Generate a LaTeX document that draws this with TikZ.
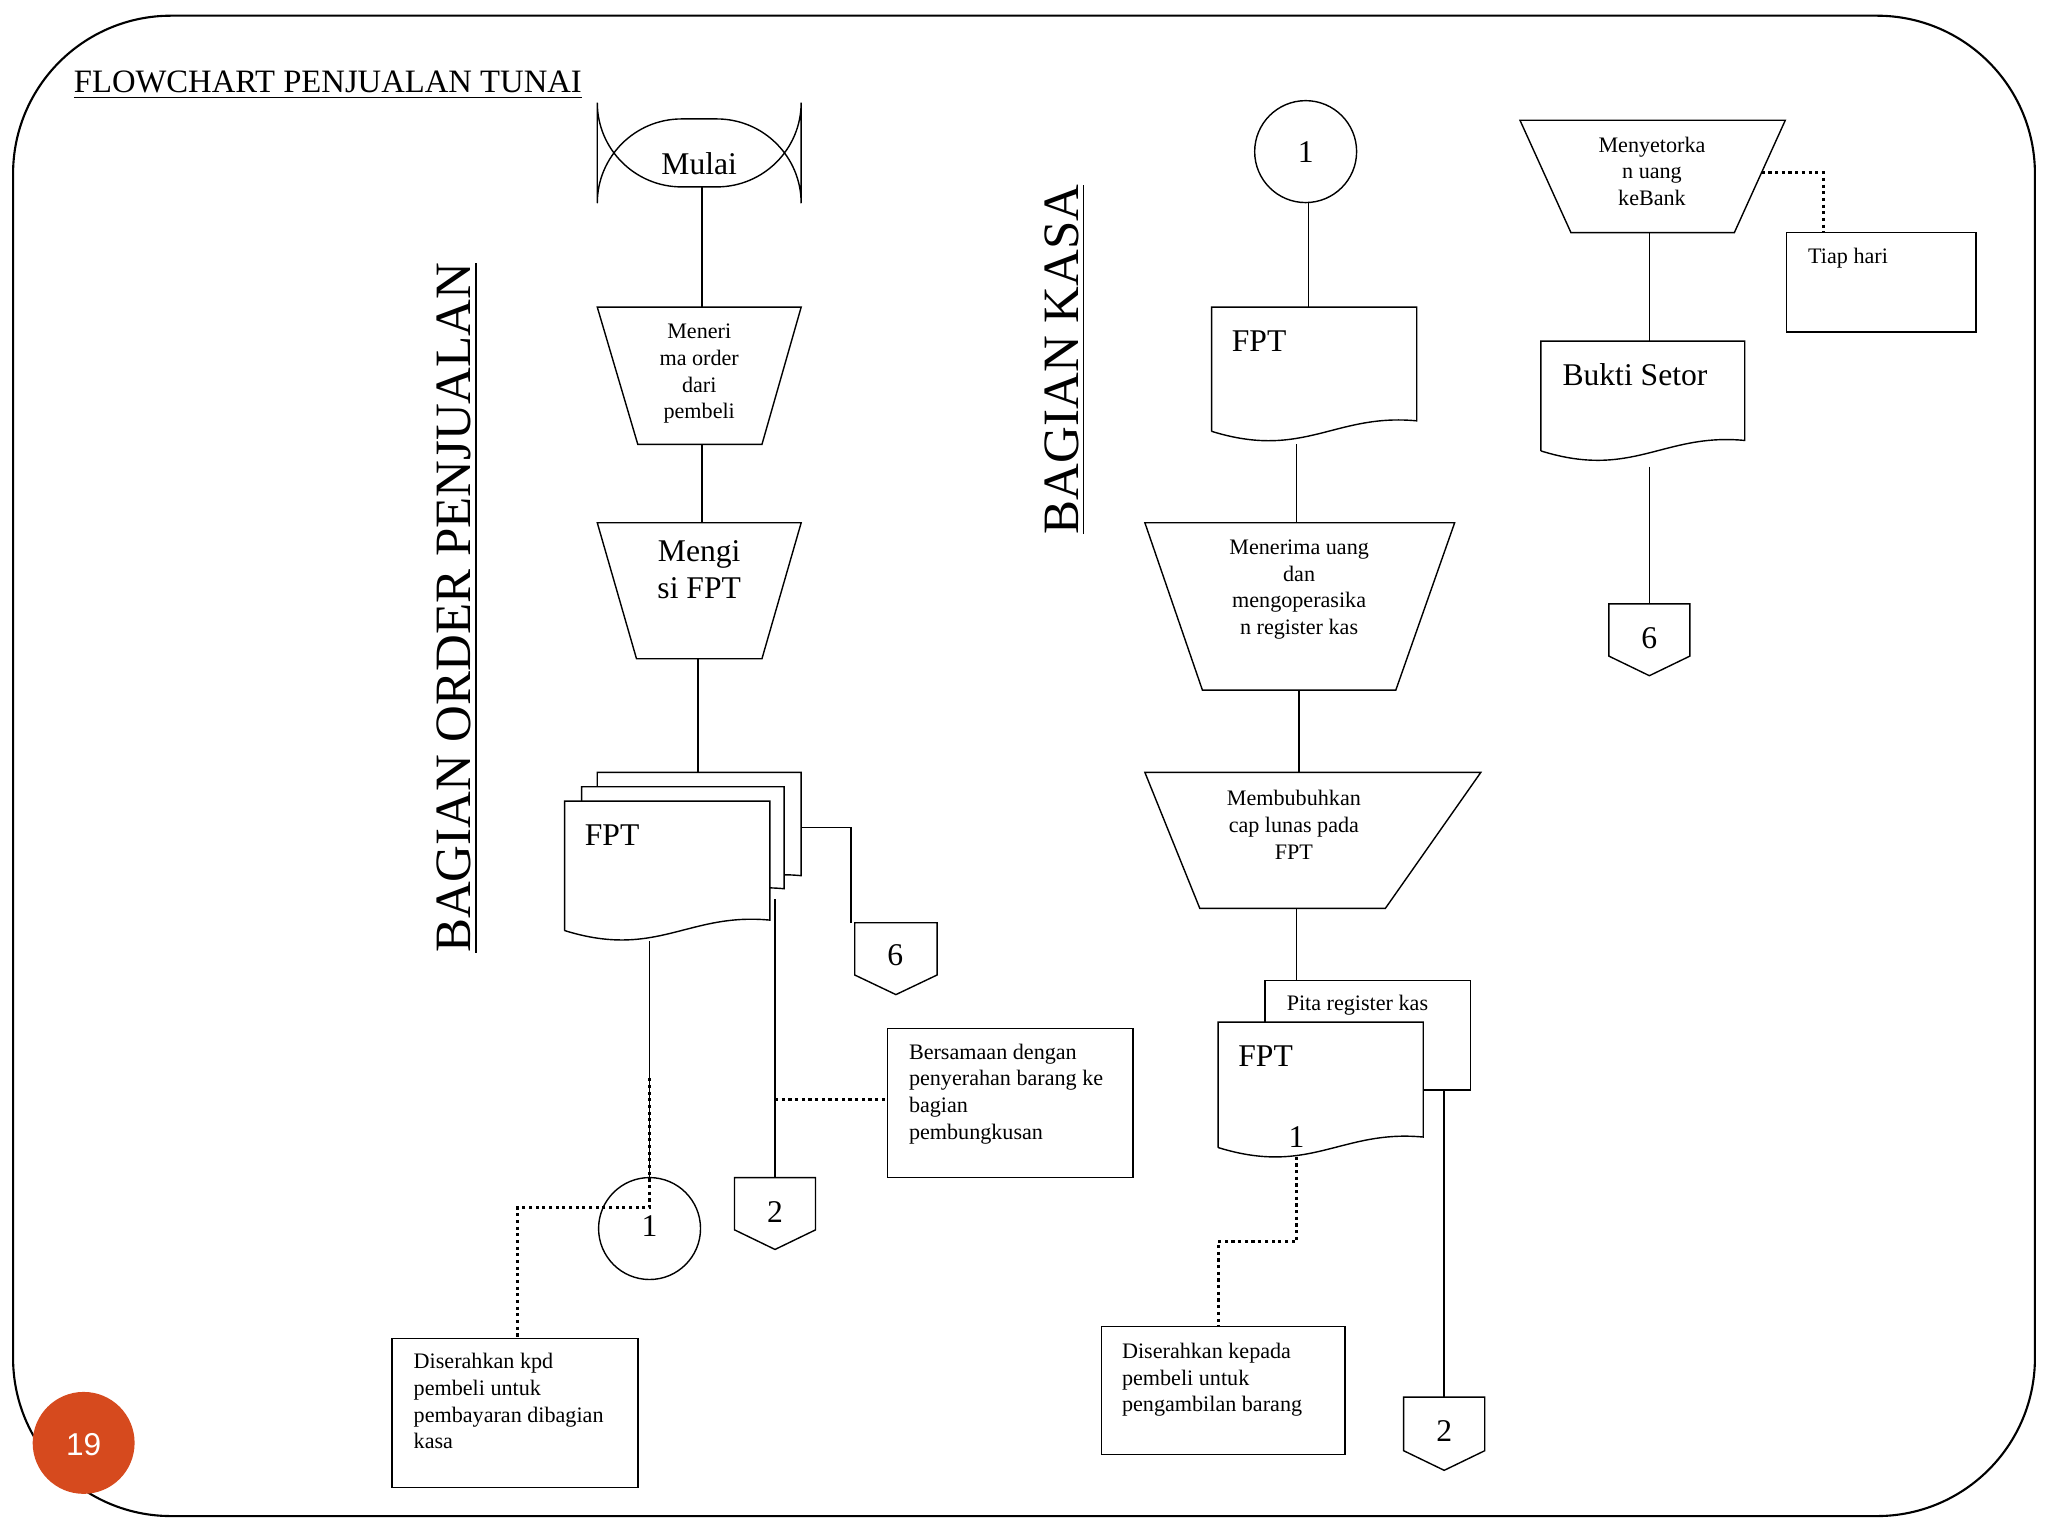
\documentclass[tikz,border=0pt]{standalone}
\usepackage{fontspec}
\setmainfont{Liberation Serif}
\newfontfamily\sansf{Liberation Sans}
\usetikzlibrary{positioning}
\definecolor{pageorange}{RGB}{214,74,30}

% document shape: left, top, right, bottom
\newcommand{\docbox}[4]{%
  \draw[fill=white] (#1,#4) -- (#1,#2) -- (#3,#2) -- (#3,#4-8)
    .. controls (#3-0.4*#3+0.4*#1,#4-14) and (#1+0.45*#3-0.45*#1,#4+22) .. (#1,#4);}
% manual operation: top-left, top-right, y top, bottom-left, bottom-right, y bottom
\newcommand{\manop}[6]{%
  \draw (#1,#3) -- (#2,#3) -- (#5,#6) -- (#4,#6) -- cycle;}
% off-page connector: left, top, right, bottom
\newcommand{\offpage}[4]{%
  \draw (#1,#2) -- (#3,#2) -- (#3,#4) -- (#1/2+#3/2,#4+15) -- (#1,#4) -- cycle;}

\begin{document}
\begin{tikzpicture}[x=0.01307cm,y=-0.01307cm,
    txt/.style={font=\fontsize{6.3}{7.6}\selectfont, align=center, inner sep=0pt},
    big/.style={font=\fontsize{9}{10.5}\selectfont, inner sep=0pt},
    note/.style={font=\fontsize{6.3}{7.6}\selectfont, align=left, anchor=north west, inner sep=0pt},
    dot/.style={densely dotted, line width=0.9pt},
    lane/.style={font=\fontsize{14.5}{16}\selectfont, rotate=90}
]
\useasboundingbox (0,0) rectangle (1567,1175);
\draw[rounded corners=45, line width=0.6pt] (10,12) rectangle (1557,1160);

\node[anchor=west, font=\fontsize{9.3}{11}\selectfont, inner sep=0pt] (title) at (56,65) {\underline{FLOWCHART PENJUALAN TUNAI}};
\node[lane] (lorder) at (350,465) {\underline{BAGIAN ORDER PENJUALAN}};
\node[lane] (lkasa) at (815,275) {\underline{BAGIAN KASA}};

% order penjualan
\draw[rounded corners=24] (457,91) rectangle (613,143);
\node[big] (mulai) at (535,125) {Mulai};
\draw (537,143) -- (537,235);
\manop{457}{613}{235}{488}{583}{340}
\node[txt] (terima) at (535,286) {Meneri\\ma order\\dari\\pembeli};
\draw (537,340) -- (537,400);
\manop{457}{613}{400}{487}{583}{504}
\node[big, align=center] (isi) at (535,436) {Mengi\\si FPT};
\draw (534,504) -- (534,591);
\draw (613,633) -- (651,633) -- (651,706);
\docbox{457}{591}{613}{678}
\docbox{445}{602}{600}{688}
\docbox{432}{613}{589}{712}
\node[big, anchor=west] (fpt1) at (447,639) {FPT};
\offpage{654}{706}{717}{746}
\node[big] (six1) at (685,731) {6};
\draw (497,720) -- (497,901);
\draw (593,688) -- (593,901);
\offpage{562}{901}{624}{941}
\node[big] (two1) at (593,927) {2};
\draw (497,940) circle (39);
\node[big] (one1) at (497,938) {1};
\draw[dot] (593,841) -- (679,841);
\draw (679,787) rectangle (867,901);
\node[note] (n1) at (695,798) {Bersamaan dengan\\penyerahan barang ke\\bagian\\pembungkusan};
\draw[dot] (497,825) -- (497,924) -- (396,924) -- (396,1024);
\draw (300,1024) rectangle (488,1138);
\node[note] (n2) at (316,1035) {Diserahkan kpd\\pembeli untuk\\pembayaran dibagian\\kasa};

% kasa
\draw (999,116) circle (39);
\node[big] (one2) at (999,116) {1};
\draw (1001,155) -- (1001,235);
\docbox{927}{235}{1084}{330}
\node[big, anchor=west] (fpt2) at (942,261) {FPT};
\draw (992,340) -- (992,400);
\manop{876}{1113}{400}{920}{1068}{528}
\node[txt] (uang) at (994,451) {Menerima uang\\dan\\mengoperasika\\n register kas};
\draw (994,528) -- (994,591);
\manop{876}{1133}{591}{918}{1060}{695}
\node[txt] (cap) at (990,631) {Membubuhkan\\cap lunas pada\\FPT};
\draw (992,695) -- (992,782);
\draw[fill=white] (968,834) -- (968,750) -- (1125,750) -- (1125,834) -- (1089,834);
\node[txt, anchor=west] (pita) at (984,769) {Pita register kas};
\docbox{932}{782}{1089}{878}
\node[big, anchor=west] (fpt3) at (947,808) {FPT};
\node[big] (one3) at (992,870) {1};
\draw (1105,834) -- (1105,1069);
\offpage{1074}{1069}{1136}{1110}
\node[big] (two2) at (1105,1095) {2};
\draw[dot] (992,885) -- (992,950) -- (932,950) -- (932,1015);
\draw (843,1015) rectangle (1029,1113);
\node[note] (n3) at (858,1027) {Diserahkan kepada\\pembeli untuk\\pengambilan barang};

% setor bank
\manop{1163}{1366}{92}{1202}{1327}{178}
\node[txt] (setor) at (1264,131) {Menyetorka\\n uang\\keBank};
\draw[dot] (1348,132) -- (1395,132) -- (1395,178);
\draw (1367,178) rectangle (1512,254);
\node[note] (n4) at (1383,189) {Tiap hari};
\draw (1262,178) -- (1262,261);
\docbox{1179}{261}{1335}{345}
\node[big, anchor=west] (bukti) at (1195,287) {Bukti Setor};
\draw (1262,357) -- (1262,462);
\offpage{1231}{462}{1293}{502}
\node[big] (six2) at (1262,488) {6};

\fill[pageorange] (64,1104) circle (39);
\node[text=white, font=\sansf\fontsize{9}{10}\selectfont] (page) at (64,1105) {19};
\end{tikzpicture}
\end{document}
